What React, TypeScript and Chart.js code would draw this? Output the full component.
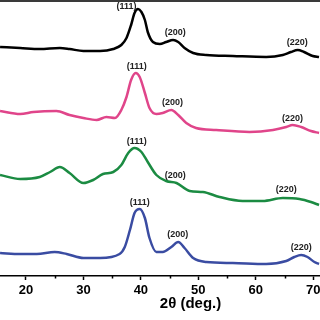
import { useEffect, useRef } from "react";
import { Chart, registerables } from "chart.js";

Chart.register(...registerables);

// 2θ range shown on the axis (degrees)
const THETA_MIN = 15.49;
const THETA_MAX = 81.8;
const majorTicks = [20, 30, 40, 50, 60, 70, 80];
const minorTicks = [25, 35, 45, 55, 65, 75];

// Sample 1 (black)
const thetaA = [15.5, 19.0, 22.4, 25.9, 27.6, 30.0, 32.9, 35.2, 36.6, 37.5, 38.3, 38.9, 39.5, 40.1, 40.7, 41.2, 42.1, 43.3, 44.4, 45.6, 46.5, 47.6, 49.1, 51.4, 56.0, 61.8, 64.7, 66.1, 67.3, 68.4, 69.9, 71.0];
const intensityA = [19, 18, 17, 18, 17, 15, 15, 17, 21, 28, 41, 53, 57, 54, 46, 34, 24, 22, 24, 26, 24, 18, 13, 11, 10, 9, 11, 14, 16, 14, 10, 9];

// Sample 2 (pink)
const thetaB = [15.5, 19.0, 21.3, 25.3, 27.6, 30.0, 32.3, 34.0, 35.5, 36.6, 37.5, 38.3, 39.1, 39.8, 40.7, 41.5, 42.7, 43.8, 45.3, 46.5, 47.9, 49.6, 53.1, 58.9, 63.0, 65.3, 66.4, 67.9, 69.6, 71.0];
const intensityB = [30, 27, 29, 30, 26, 23, 21, 24, 23, 31, 44, 61, 68, 64, 48, 33, 27, 28, 31, 26, 18, 13, 11, 9, 11, 14, 16, 14, 10, 8];

// Sample 3 (green)
const thetaC = [15.5, 19.0, 22.4, 24.2, 25.9, 27.6, 30.0, 31.7, 33.4, 35.2, 36.6, 37.8, 38.9, 40.1, 41.2, 42.7, 44.4, 46.2, 48.5, 50.8, 53.7, 57.7, 61.2, 64.7, 67.6, 69.6, 71.0];
const intensityC = [36, 32, 34, 39, 44, 38, 28, 31, 37, 39, 46, 58, 63, 59, 49, 36, 30, 28, 20, 19, 14, 10, 10, 13, 12, 9, 6];

// Sample 4 (blue)
const thetaD = [15.5, 19.0, 21.9, 25.0, 27.1, 30.0, 32.9, 36.3, 37.2, 38.1, 38.9, 39.8, 40.7, 41.5, 42.7, 43.8, 45.3, 46.5, 47.6, 49.1, 51.4, 56.0, 61.8, 65.3, 66.7, 67.9, 69.0, 70.2, 71.0];
const intensityD = [23, 22, 22, 24, 22, 18, 18, 22, 29, 46, 63, 67, 58, 38, 24, 24, 29, 34, 28, 18, 14, 13, 12, 15, 19, 21, 19, 14, 12];

// Vertical stacking offsets (a.u.)
const offsets = [210, 135, 65, 0];
const colors = ["#000000", "#e0458a", "#1b8b42", "#3a4ca2"];

// Reflection labels: [text, 2θ, height above the trace's baseline]
const reflectionsA: [string, number, number][] = [["(111)", 37.5, 59], ["(200)", 46.0, 33], ["(220)", 67.2, 23]];
const reflectionsB: [string, number, number][] = [["(111)", 39.3, 74], ["(200)", 45.5, 38], ["(220)", 66.4, 22]];
const reflectionsC: [string, number, number][] = [["(111)", 39.3, 69], ["(200)", 46.0, 35], ["(220)", 65.3, 21]];
const reflectionsD: [string, number, number][] = [["(111)", 39.8, 73], ["(200)", 46.4, 41], ["(220)", 67.9, 28]];

const series = [
  { theta: thetaA, intensity: intensityA, refl: reflectionsA },
  { theta: thetaB, intensity: intensityB, refl: reflectionsB },
  { theta: thetaC, intensity: intensityC, refl: reflectionsC },
  { theta: thetaD, intensity: intensityD, refl: reflectionsD },
];

const FONT = "'Liberation Sans', Arial, sans-serif";

const minorTickPlugin = {
  id: "minorTicks",
  afterDraw(chart: any) {
    const s = chart.scales.x;
    const ctx = chart.ctx;
    ctx.save();
    ctx.strokeStyle = "#000";
    ctx.lineWidth = 1.5;
    ctx.beginPath();
    for (const v of minorTicks) {
      const x = Math.round(s.getPixelForValue(v)) + 0.5;
      ctx.moveTo(x, s.top);
      ctx.lineTo(x, s.top + 2.5);
    }
    ctx.stroke();
    ctx.restore();
  },
};

const reflectionLabelPlugin = {
  id: "reflectionLabels",
  afterDatasetsDraw(chart: any) {
    const { ctx } = chart;
    const xs = chart.scales.x;
    const ys = chart.scales.y;
    ctx.save();
    ctx.font = `bold 9px ${FONT}`;
    ctx.fillStyle = "#222";
    ctx.textAlign = "center";
    ctx.textBaseline = "middle";
    series.forEach((s, i) => {
      for (const [text, t, h] of s.refl) {
        ctx.fillText(text, xs.getPixelForValue(t), ys.getPixelForValue(h + offsets[i]));
      }
    });
    ctx.restore();
  },
};

export default function App() {
  const canvasRef = useRef<HTMLCanvasElement>(null);

  useEffect(() => {
    if (!canvasRef.current) return;
    const chart = new Chart(canvasRef.current, {
      type: "line",
      data: {
        datasets: series.map((s, i) => ({
          data: s.theta.map((t, j) => ({ x: t, y: s.intensity[j] + offsets[i] })),
          borderColor: colors[i],
          borderWidth: 2.5,
          pointRadius: 0,
          fill: false,
          cubicInterpolationMode: "monotone" as const,
        })),
      },
      options: {
        responsive: false,
        animation: false,
        devicePixelRatio: 1,
        layout: { padding: { top: 1, bottom: 6, left: 0, right: 0 } },
        plugins: { legend: { display: false }, tooltip: { enabled: false } },
        scales: {
          x: {
            type: "linear",
            position: "bottom",
            min: THETA_MIN,
            max: THETA_MAX,
            afterBuildTicks: (scale: any) => {
              scale.ticks = majorTicks.map((v) => ({ value: v }));
            },
            afterFit: (scale: any) => {
              scale.height = 38;
            },
            ticks: {
              color: "#000",
              font: { family: FONT, size: 13, weight: "bold", lineHeight: 1 },
              padding: 4,
              maxRotation: 0,
              autoSkip: false,
            },
            grid: { display: true, drawOnChartArea: false, tickLength: 4, tickWidth: 1.5, tickColor: "#000" },
            border: { display: true, color: "#000", width: 1.5 },
            title: {
              display: true,
              text: "2θ (deg.)",
              color: "#000",
              font: { family: FONT, size: 15, weight: "bold", lineHeight: 1 },
              padding: { top: 0, bottom: 3 },
            },
          },
          xTop: {
            type: "linear",
            position: "top",
            min: THETA_MIN,
            max: THETA_MAX,
            ticks: { display: false },
            grid: { display: false, drawTicks: false },
            border: { display: true, color: "#3a3a3a", width: 2 },
          },
          y: { display: false, min: 0, max: 275 },
        },
      },
      plugins: [minorTickPlugin, reflectionLabelPlugin],
    });
    return () => chart.destroy();
  }, []);

  return (
    <div style={{ position: "fixed", left: 0, top: 0, width: 320, height: 320, overflow: "hidden", background: "#fff" }}>
      <canvas ref={canvasRef} width={382} height={320} style={{ display: "block" }} />
    </div>
  );
}
